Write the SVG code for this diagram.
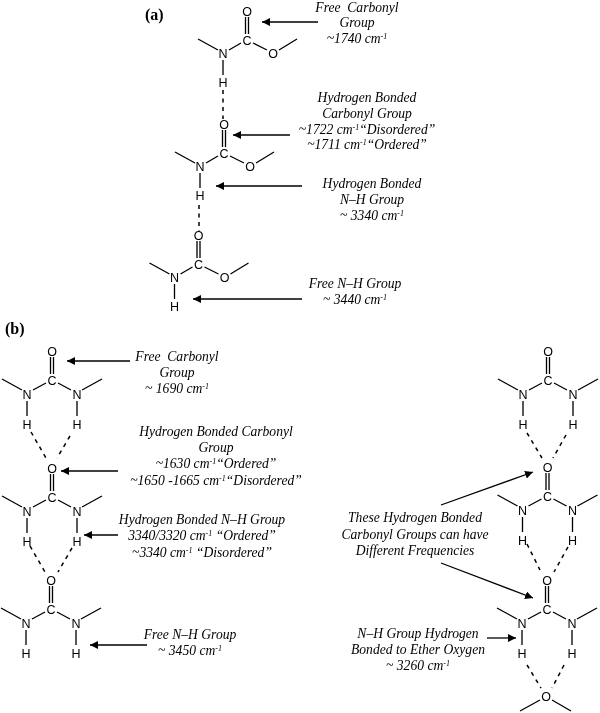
<svg xmlns="http://www.w3.org/2000/svg" width="600" height="713" viewBox="0 0 600 713">
<style>
.a{font:12.5px "Liberation Sans",Arial,sans-serif;text-anchor:middle;fill:#000}
.l{font:italic 13.6px "Liberation Serif","Times New Roman",serif;text-anchor:middle;fill:#000;white-space:pre}
.t{font:bold 16px "Liberation Serif","Times New Roman",serif;fill:#000}
.s{font-size:8px}
.b{fill:none;stroke:#000;stroke-width:1.3}
.d{fill:none;stroke:#000;stroke-width:1.5;stroke-dasharray:4 4.5}
.r{fill:none;stroke:#000;stroke-width:1.3;marker-end:url(#h)}
</style>
<defs>
<marker id="h" markerUnits="userSpaceOnUse" markerWidth="10" markerHeight="9" refX="8" refY="4" orient="auto"><path d="M0 0L8 4L0 8Z" fill="#000"/></marker>
<filter id="soft" x="0" y="0" width="600" height="713" filterUnits="userSpaceOnUse"><feGaussianBlur stdDeviation="0.35"/></filter>
</defs>
<g id="diagram" filter="url(#soft)">
<rect width="600" height="713" fill="#fff"/>
<g id="connectors">
<path class="d" d="M223 90V119M199 205V232"/>
<path class="d" d="M31 432L46 458M70 436L57 458M30 546L45 572M72 548L58 572M527 433L542 458M566 435L553 458M527 544L540 570M568 547L554 572M527 665L541 688M564 665L552 688"/>
<path class="r" d="M318 22H262"/>
<path class="r" d="M290 135H233"/>
<path class="r" d="M302 186H216"/>
<path class="r" d="M302 299H193"/>
<path class="r" d="M130 361H67"/>
<path class="r" d="M118 471H61"/>
<path class="r" d="M118 535H84"/>
<path class="r" d="M147 645H90"/>
<path class="r" d="M441 505L533 472"/>
<path class="r" d="M441 563L533 598"/>
<path class="r" d="M487 638H516"/>
</g>

<g id="molecule-a1" transform="translate(247 40)"><path class="b" d="M-1.500-23V-6M1.500-23V-6M-6 3L-18 10M-29 10L-49-1M-24 20V35M6 3L20 10M32 10L50-1"/><text class="a" y="-24.500">O</text><text class="a" y="4.500">C</text><text class="a" x="-24" y="17.500">N</text><text class="a" x="26" y="17.500">O</text><text class="a" x="-24" y="46.500">H</text></g>
<g id="molecule-a2" transform="translate(224 153)"><path class="b" d="M-1.500-23V-6M1.500-23V-6M-6 3L-18 10M-29 10L-49-1M-24 20V35M6 3L20 10M32 10L50-1"/><text class="a" y="-24.500">O</text><text class="a" y="4.500">C</text><text class="a" x="-24" y="17.500">N</text><text class="a" x="26" y="17.500">O</text><text class="a" x="-24" y="46.500">H</text></g>
<g id="molecule-a3" transform="translate(198.500 264)"><path class="b" d="M-1.500-23V-6M1.500-23V-6M-6 3L-18 10M-29 10L-49-1M-24 20V35M6 3L20 10M32 10L50-1"/><text class="a" y="-24.500">O</text><text class="a" y="4.500">C</text><text class="a" x="-24" y="17.500">N</text><text class="a" x="26" y="17.500">O</text><text class="a" x="-24" y="46.500">H</text></g>

<g id="molecule-b1" transform="translate(52 380)"><path class="b" d="M-1.500-23V-6M1.500-23V-6M-6 3L-19 10M-30 10L-50-1M-25 21V36M6 3L19 10M30 10L50-1M25 21V36"/><text class="a" y="-24.500">O</text><text class="a" y="4.500">C</text><text class="a" x="-25" y="18.500">N</text><text class="a" x="25" y="18.500">N</text><text class="a" x="-25" y="48.500">H</text><text class="a" x="25" y="48.500">H</text></g>
<g id="molecule-b2" transform="translate(52 497)"><path class="b" d="M-1.500-23V-6M1.500-23V-6M-6 3L-19 10M-30 10L-50-1M-25 21V36M6 3L19 10M30 10L50-1M25 21V36"/><text class="a" y="-24.500">O</text><text class="a" y="4.500">C</text><text class="a" x="-25" y="18.500">N</text><text class="a" x="25" y="18.500">N</text><text class="a" x="-25" y="48.500">H</text><text class="a" x="25" y="48.500">H</text></g>
<g id="molecule-b3" transform="translate(51 609)"><path class="b" d="M-1.500-23V-6M1.500-23V-6M-6 3L-19 10M-30 10L-50-1M-25 21V36M6 3L19 10M30 10L50-1M25 21V36"/><text class="a" y="-24.500">O</text><text class="a" y="4.500">C</text><text class="a" x="-25" y="18.500">N</text><text class="a" x="25" y="18.500">N</text><text class="a" x="-25" y="48.500">H</text><text class="a" x="25" y="48.500">H</text></g>

<g id="molecule-c1" transform="translate(548 380)"><path class="b" d="M-1.500-23V-6M1.500-23V-6M-6 3L-19 10M-30 10L-50-1M-25 21V36M6 3L19 10M30 10L50-1M25 21V36"/><text class="a" y="-24.500">O</text><text class="a" y="4.500">C</text><text class="a" x="-25" y="18.500">N</text><text class="a" x="25" y="18.500">N</text><text class="a" x="-25" y="48.500">H</text><text class="a" x="25" y="48.500">H</text></g>
<g id="molecule-c2" transform="translate(547.500 496)"><path class="b" d="M-1.500-23V-6M1.500-23V-6M-6 3L-19 10M-30 10L-50-1M-25 21V36M6 3L19 10M30 10L50-1M25 21V36"/><text class="a" y="-24.500">O</text><text class="a" y="4.500">C</text><text class="a" x="-25" y="18.500">N</text><text class="a" x="25" y="18.500">N</text><text class="a" x="-25" y="48.500">H</text><text class="a" x="25" y="48.500">H</text></g>
<g id="molecule-c3" transform="translate(547 609)"><path class="b" d="M-1.500-23V-6M1.500-23V-6M-6 3L-19 10M-30 10L-50-1M-25 21V36M6 3L19 10M30 10L50-1M25 21V36"/><text class="a" y="-24.500">O</text><text class="a" y="4.500">C</text><text class="a" x="-25" y="18.500">N</text><text class="a" x="25" y="18.500">N</text><text class="a" x="-25" y="48.500">H</text><text class="a" x="25" y="48.500">H</text></g>
<g id="ether" transform="translate(546 696)"><path class="b" d="M-6 4L-26 15M6 4L25 15"/><text class="a" y="4.500">O</text></g>

<g id="panel-labels"><text class="t" x="145" y="20">(a)</text><text class="t" x="5" y="334">(b)</text></g>

<g id="label-a1"><text class="l" x="357" y="12">Free  Carbonyl</text><text class="l" x="357" y="27">Group</text><text class="l" x="357" y="43">~1740 cm<tspan class="s" dy="-4">-1</tspan></text></g>
<g id="label-a2"><text class="l" x="367" y="102">Hydrogen Bonded</text><text class="l" x="367" y="118">Carbonyl Group</text><text class="l" x="367" y="134">~1722 cm<tspan class="s" dy="-4">-1</tspan><tspan dy="4">“Disordered”</tspan></text><text class="l" x="367" y="149">~1711 cm<tspan class="s" dy="-4">-1</tspan><tspan dy="4">“Ordered”</tspan></text></g>
<g id="label-a3"><text class="l" x="372" y="188">Hydrogen Bonded</text><text class="l" x="372" y="204">N–H Group</text><text class="l" x="372" y="220">~ 3340 cm<tspan class="s" dy="-4">-1</tspan></text></g>
<g id="label-a4"><text class="l" x="355" y="288">Free N–H Group</text><text class="l" x="355" y="304">~ 3440 cm<tspan class="s" dy="-4">-1</tspan></text></g>

<g id="label-b1"><text class="l" x="177" y="361">Free  Carbonyl</text><text class="l" x="177" y="377">Group</text><text class="l" x="177" y="393">~ 1690 cm<tspan class="s" dy="-4">-1</tspan></text></g>
<g id="label-b2"><text class="l" x="216" y="436">Hydrogen Bonded Carbonyl</text><text class="l" x="216" y="452">Group</text><text class="l" x="216" y="468">~1630 cm<tspan class="s" dy="-4">-1</tspan><tspan dy="4">“Ordered”</tspan></text><text class="l" x="216" y="485">~1650 -1665 cm<tspan class="s" dy="-4">-1</tspan><tspan dy="4">“Disordered”</tspan></text></g>
<g id="label-b3"><text class="l" x="202" y="524">Hydrogen Bonded N–H Group</text><text class="l" x="202" y="540">3340/3320 cm<tspan class="s" dy="-4">-1</tspan><tspan dy="4"> “Ordered”</tspan></text><text class="l" x="202" y="557">~3340 cm<tspan class="s" dy="-4">-1</tspan><tspan dy="4"> “Disordered”</tspan></text></g>
<g id="label-b4"><text class="l" x="190" y="639">Free N–H Group</text><text class="l" x="190" y="655">~ 3450 cm<tspan class="s" dy="-4">-1</tspan></text></g>

<g id="label-c1"><text class="l" x="415" y="522">These Hydrogen Bonded</text><text class="l" x="415" y="539">Carbonyl Groups can have</text><text class="l" x="415" y="555">Different Frequencies</text></g>
<g id="label-c2"><text class="l" x="418" y="638">N–H Group Hydrogen</text><text class="l" x="418" y="654">Bonded to Ether Oxygen</text><text class="l" x="418" y="670">~ 3260 cm<tspan class="s" dy="-4">-1</tspan></text></g>
</g>
</svg>
